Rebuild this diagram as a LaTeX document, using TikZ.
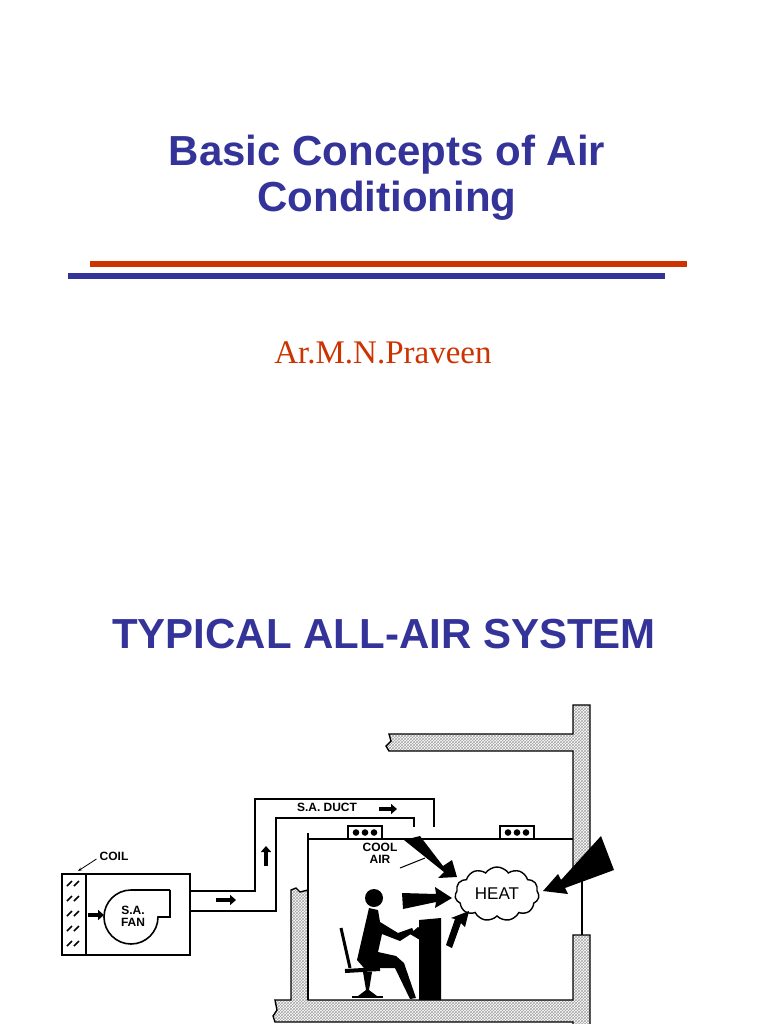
\documentclass[tikz,border=0pt]{standalone}
\usepackage{fontspec}
\setmainfont{Liberation Serif}
\setsansfont{Liberation Sans}
\usetikzlibrary{patterns,arrows.meta,shapes.symbols}
\definecolor{tblue}{HTML}{333399}
\definecolor{tred}{HTML}{CC3300}
\tikzset{
  hatch/.style={pattern=crosshatch,pattern color=gray!70,draw=black,line width=1.4pt},
  wall/.style={line width=1.6pt},
  small/.style={font=\sffamily\bfseries\fontsize{12}{12}\selectfont,align=center,inner sep=0pt},
  sarrow/.style={line width=3.5pt,-{Triangle[length=6pt,width=10pt]}},
  blk/.style={fill=black,draw=black}
}
\begin{document}
\begin{tikzpicture}[x=1pt,y=-1pt]
\useasboundingbox[fill=white] (0,0) rectangle (768,1024);
% title
\node[text=tblue,font=\sffamily\bfseries\fontsize{42}{46}\selectfont,align=center] (title) at (387,178) {Basic Concepts of Air\\Conditioning};
\draw[tred,line width=6pt] (90,264) -- (687,264);
\draw[tblue,line width=6pt] (68,276) -- (665,276);
\node[text=tred,font=\fontsize{33}{35}\selectfont] (author) at (383,353) {Ar.M.N.Praveen};
\node[text=tblue,font=\sffamily\bfseries\fontsize{42}{44}\selectfont] (sub) at (384,634) {TYPICAL ALL-AIR SYSTEM};
% AHU
\draw[wall] (62,874) rectangle (190,955);
\draw[wall] (86,874) -- (86,955);
\foreach \yy in {882,897,912,927,942}{
  \draw[line width=1.6pt] (67,\yy+4) -- (72,\yy-1);
  \draw[line width=1.6pt] (74,\yy+4) -- (79,\yy-1);
}
\draw[wall] (170,890) -- (131,890) arc[start angle=270,end angle=0,radius=27] -- (170,917) -- (170,890);
\node[small] (fan) at (133,916) {S.A.\\FAN};
\draw[sarrow] (88,915) -- (104,915);
\node[small] (coil) at (114,856) {COIL};
\coordinate (coilp) at (78,871);
\draw[line width=0.8pt,-{Stealth[length=4pt]}] (coil.west) ++(-3,3) -- (coilp);
% duct
\draw[wall] (190,891) -- (255,891) -- (255,799) -- (434,799) -- (434,827);
\draw[wall] (190,911) -- (276,911) -- (276,818) -- (414,818) -- (414,827);
\draw[sarrow] (216,900) -- (236,900);
\draw[sarrow] (266,866) -- (266,846);
\node[small] (duct) at (327,807) {S.A. DUCT};
\draw[sarrow] (379,809) -- (397,809);
% diffusers
\foreach \xx in {348,500}{
  \draw[wall] (\xx,826) rectangle (\xx+34,839);
  \foreach \d in {8,17,26} \fill (\xx+\d,832.5) circle (3.3);
}
% building
\draw[hatch] (389,734) -- (573,734) -- (573,705) -- (590,705) -- (590,878) -- (573,878) -- (573,751) -- (389,751) -- (386,746) -- (391,741) -- cycle;
\draw[wall] (582,878) -- (582,935);
\draw[hatch] (573,1024) -- (573,1022) -- (275,1022) -- (273,1016) -- (277,1010) -- (275,1000) -- (291,1000) -- (291,890) -- (296,888) -- (300,892) -- (308,890) -- (308,1000) -- (573,1000) -- (573,935) -- (590,935) -- (590,1024);
\draw[wall] (308,833) -- (308,1000);
\draw[wall] (308,839) -- (573,839);
% cool air
\node[small] (cool) at (380,853) {COOL\\AIR};
\draw[line width=1pt] (400,868) -- (425,858);
% heat cloud
\node[cloud,draw,line width=1.4pt,cloud puffs=11,cloud puff arc=110,aspect=1.6,minimum width=84pt,minimum height=54pt,fill=white,font=\sffamily\fontsize{17}{17}\selectfont] (heat) at (497,894) {HEAT};
% heat arrows
\fill (404,840) -- (420,836) -- (443,866) -- (452,860) -- (457,877) -- (438,878) -- (444,872) -- cycle;
\fill (402,893) -- (436,894) -- (435,887) -- (452,898) -- (435,908) -- (436,902) -- (403,909) -- cycle;
\fill (446,945) -- (455,919) -- (451,918) -- (469,911) -- (465,927) -- (461,923) -- (452,948) -- cycle;
\fill (601,836) -- (614,870) -- (565,888) -- (568,894) -- (543,891) -- (558,874) -- (561,880) -- cycle;
% person
\fill (374,898) circle (9);
\fill (369,908) -- (378,910) -- (380,922) -- (398,933) -- (412,928) -- (414,932) -- (400,941) -- (382,934) -- (378,952) -- (396,956) -- (404,963) -- (416,998) -- (410,999) -- (395,968) -- (364,968) -- (357,960) -- cycle;
\fill (410,934) -- (418,927) -- (425,932) -- (420,940) -- cycle;
\draw[line width=3pt] (341,928) -- (350,968);
\draw[line width=4pt] (345,971) -- (380,969);
\fill (363,972) -- (372,972) -- (369,990) -- (377,996) -- (358,996) -- (366,990) -- cycle;
\draw[line width=2pt] (352,997) -- (383,997);
\fill (419,920) -- (441,918) -- (441,1000) -- (419,1000) -- cycle;
\end{tikzpicture}
\end{document}
